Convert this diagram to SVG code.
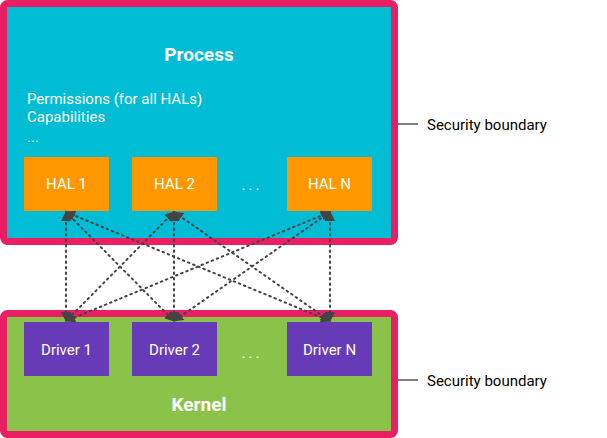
<svg xmlns="http://www.w3.org/2000/svg" width="607" height="438" viewBox="0 0 607 438">
<style>
text{font-family:Roboto,"Liberation Sans",sans-serif}
.hal{fill:#ff9800}.drv{fill:#673ab7}
.lbl{fill:#fff;font-size:15px;text-anchor:middle}
.c{stroke:#444;stroke-width:2;stroke-dasharray:1.5 4;stroke-linecap:round;fill:none;marker-start:url(#a);marker-end:url(#a)}
</style>
<defs><marker id="a" viewBox="0 0 10 10" refX="9" refY="5" markerWidth="5" markerHeight="5" orient="auto-start-reverse"><path d="M0,0L10,5L0,10z" fill="#444"/></marker></defs>
<rect width="607" height="438" fill="#fff"/>
<g id="process">
<rect x="3.5" y="3.5" width="391" height="238" rx="4" fill="#00bcd4" stroke="#e91e63" stroke-width="7"/>
<text x="199" y="61" font-size="19" font-weight="bold" fill="#fff" text-anchor="middle">Process</text>
<text x="27" y="104" font-size="15" fill="#fff">Permissions (for all HALs)</text>
<text x="27" y="122" font-size="15" fill="#fff">Capabilities</text>
<text x="27" y="142" font-size="15" fill="#fff">...</text>
<text x="252" y="190" font-size="15" fill="#fff" text-anchor="middle" letter-spacing="3">...</text>
</g>
<g id="kernel">
<rect x="3.5" y="313.5" width="391" height="121" rx="4" fill="#8bc34a" stroke="#e91e63" stroke-width="7"/>
<text x="199" y="411" font-size="19" font-weight="bold" fill="#fff" text-anchor="middle">Kernel</text>
<text x="252" y="358" font-size="15" fill="#fff" text-anchor="middle" letter-spacing="3">...</text>
</g>
<g id="hal1"><rect class="hal" x="24" y="157" width="85" height="54"/><text class="lbl" x="66.5" y="189">HAL 1</text></g>
<g id="hal2"><rect class="hal" x="132" y="157" width="85" height="54"/><text class="lbl" x="174.5" y="189">HAL 2</text></g>
<g id="halN"><rect class="hal" x="287" y="157" width="85" height="54"/><text class="lbl" x="329.5" y="189">HAL N</text></g>
<g id="drv1"><rect class="drv" x="24" y="322" width="85" height="54"/><text class="lbl" x="66.5" y="355">Driver 1</text></g>
<g id="drv2"><rect class="drv" x="132" y="322" width="85" height="54"/><text class="lbl" x="174.5" y="355">Driver 2</text></g>
<g id="drvN"><rect class="drv" x="287" y="322" width="85" height="54"/><text class="lbl" x="329.5" y="355">Driver N</text></g>
<g id="connectors">
<path class="c" d="M66,212L66,321"/><path class="c" d="M66,212L174,321"/><path class="c" d="M66,212L330,321"/>
<path class="c" d="M174,212L66,321"/><path class="c" d="M174,212L174,321"/><path class="c" d="M174,212L330,321"/>
<path class="c" d="M330,212L66,321"/><path class="c" d="M330,212L174,321"/><path class="c" d="M330,212L330,321"/>
<path d="M398,124H418M398,380H418" stroke="#000" stroke-width="1"/>
</g>
<text x="427" y="130" font-size="15" fill="#000">Security boundary</text>
<text x="427" y="386" font-size="15" fill="#000">Security boundary</text>
</svg>
